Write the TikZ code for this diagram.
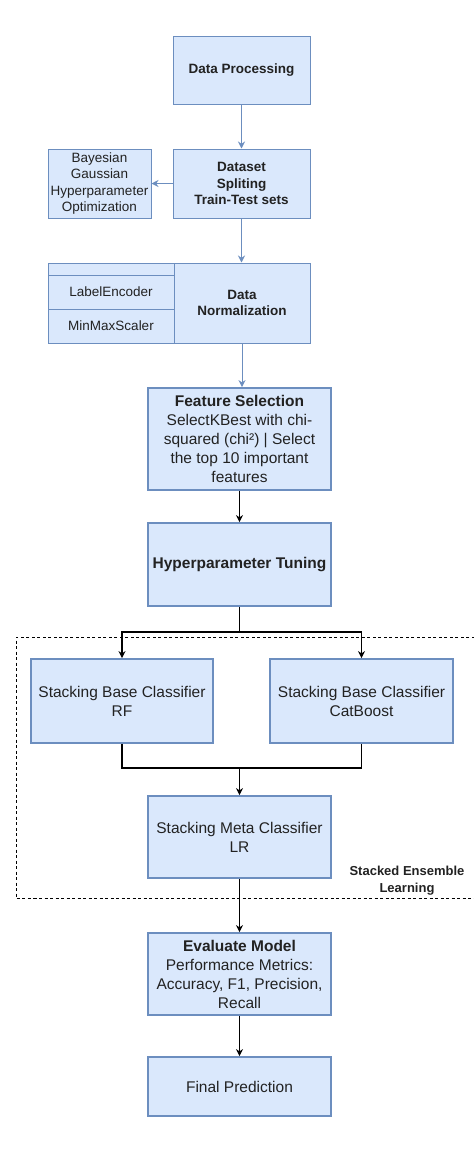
\documentclass[tikz,border=0pt]{standalone}
\usepackage{fontspec}
\setmainfont{Liberation Sans}
\usetikzlibrary{arrows.meta}
\definecolor{boxfill}{HTML}{DAE8FC}
\definecolor{boxline}{HTML}{6C8EBF}
\definecolor{txt}{HTML}{222222}
\begin{document}
\begin{tikzpicture}[x=1pt,y=-1pt,
  topbox/.style={draw=boxline,fill=boxfill,line width=1pt,align=center,inner sep=1pt,
    text=txt,font=\fontsize{13.5}{16.5}\selectfont},
  lowbox/.style={draw=boxline,fill=boxfill,line width=1.8pt,align=center,inner sep=1pt,
    text=txt,font=\fontsize{15.5}{19}\selectfont},
  bluearrow/.style={draw=boxline,line width=1pt,-{Stealth[length=7pt,width=7pt]}},
  blackarrow/.style={draw=black,line width=1.2pt,-{Stealth[length=7pt,width=7pt]}},
  blackline/.style={draw=black,line width=1.2pt},
  frame/.style={draw=black,line width=0.9pt,dash pattern=on 3pt off 2.5pt}]
\useasboundingbox (0,0) rectangle (474,1149);
\clip (0,0) rectangle (474,1149);

% dashed frame
\draw[frame] (480,637) -- (16,637) -- (16,898) -- (480,898);
\node[font=\fontsize{13}{17}\selectfont\bfseries,text=txt,align=center] (ensl) at (407,881) {Stacked Ensemble\\Learning};

% top part
\node[topbox,minimum width=137pt,minimum height=68pt] (dp) at (241.5,70) {\bfseries Data Processing};
\node[topbox,minimum width=137pt,minimum height=69pt] (ds) at (241.5,183.5) {\bfseries Dataset\\\bfseries Spliting\\\bfseries Train-Test sets};
\node[topbox,minimum width=103pt,minimum height=69pt] (bay) at (99.5,183.5) {Bayesian\\Gaussian\\Hyperparameter\\Optimization};

% normalization composite
\node[topbox,minimum width=136pt,minimum height=80pt] (norm) at (242,303) {\bfseries Data\\\bfseries Normalization};
\node[topbox,minimum width=126pt,minimum height=12pt] (hdr) at (111,269) {};
\node[topbox,minimum width=126pt,minimum height=34pt] (le) at (111,292) {LabelEncoder};
\node[topbox,minimum width=126pt,minimum height=34pt] (mm) at (111,326) {MinMaxScaler};

% lower part
\node[lowbox,minimum width=183pt,minimum height=102pt] (fs) at (239.5,439)
  {{\bfseries Feature Selection}\\SelectKBest with chi-\\squared (chi²) | Select\\the top 10 important\\features};
\node[lowbox,minimum width=183pt,minimum height=83pt] (hp) at (239.5,564.5) {\bfseries Hyperparameter Tuning};
\node[lowbox,minimum width=182pt,minimum height=84pt] (rf) at (122,701) {Stacking Base Classifier\\RF};
\node[lowbox,minimum width=183pt,minimum height=84pt] (cb) at (361.5,701) {Stacking Base Classifier\\CatBoost};
\node[lowbox,minimum width=183pt,minimum height=82pt] (meta) at (239.5,837) {Stacking Meta Classifier\\LR};
\node[lowbox,minimum width=183pt,minimum height=82pt] (ev) at (239.5,974)
  {{\bfseries Evaluate Model}\\Performance Metrics:\\Accuracy, F1, Precision,\\Recall};
\node[lowbox,minimum width=183pt,minimum height=59pt] (fp) at (239.5,1086.5) {Final Prediction};

\coordinate (j1) at (239.5,632);
\coordinate (j2) at (239.5,768);

% connectors
\draw[bluearrow] (dp) -- (ds);
\draw[bluearrow] (ds) -- (bay);
\draw[bluearrow] (ds.south) -- (ds.south |- norm.north);
\draw[bluearrow] (norm.south) -- (norm.south |- fs.north);
\draw[blackarrow] (fs) -- (hp);
\draw[blackline] (hp) -- (j1);
\draw[blackarrow] (j1) -| (rf);
\draw[blackarrow] (j1) -| (cb);
\draw[blackline] (rf) |- (j2);
\draw[blackline] (cb) |- (j2);
\draw[blackarrow] (j2) -- (meta);
\draw[blackarrow] (meta) -- (ev);
\draw[blackarrow] (ev) -- (fp);
\end{tikzpicture}
\end{document}
